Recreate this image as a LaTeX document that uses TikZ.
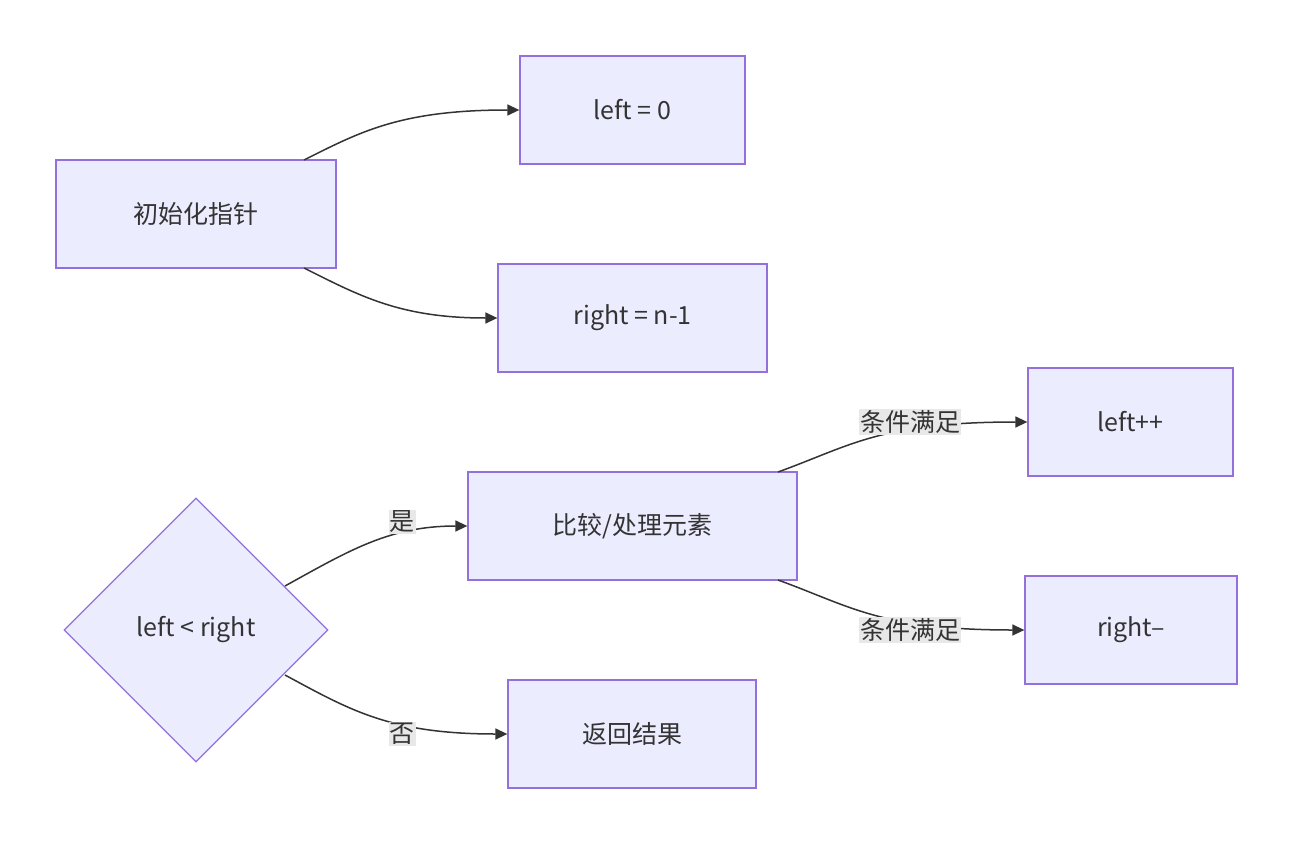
\documentclass[tikz,border=0pt]{standalone}
\usepackage{fontspec}
\setmainfont{Noto Sans CJK SC}
\usetikzlibrary{shapes.geometric,arrows.meta}
\definecolor{nfill}{HTML}{ECECFF}
\definecolor{nline}{HTML}{9370DB}
\definecolor{ecol}{HTML}{333333}
\definecolor{lbg}{HTML}{E8E8E8}
\begin{document}
\begin{tikzpicture}[x=1pt,y=-1pt,
  box/.style={draw=nline,fill=nfill,line width=1.3pt,inner sep=0pt,font=\fontsize{25}{30}\selectfont,text=ecol},
  dia/.style={diamond,draw=nline,fill=nfill,line width=1.3pt,inner sep=0pt,minimum width=264pt,minimum height=264pt,font=\fontsize{25}{30}\selectfont,text=ecol},
  edge/.style={draw=ecol,line width=1.5pt,-{Triangle[length=12pt,width=11pt]}},
  lab/.style={fill=lbg,inner sep=1pt,font=\fontsize{25}{30}\selectfont,text=ecol}]
\useasboundingbox (0,0) rectangle (1292,843);
\node[box,minimum width=280pt,minimum height=108pt] (init) at (196,214) {初始化指针};
\node[box,minimum width=225pt,minimum height=108pt] (l0) at (632.5,110) {left = 0};
\node[box,minimum width=269pt,minimum height=108pt] (r) at (632.5,318) {right = n-1};
\node[dia] (d) at (196,630) {left < right};
\node[box,minimum width=329pt,minimum height=108pt] (cmp) at (632.5,526) {比较/处理元素};
\node[box,minimum width=205pt,minimum height=108pt] (lp) at (1130.5,422) {left++};
\node[box,minimum width=212pt,minimum height=108pt] (rm) at (1131,630) {right--};
\node[box,minimum width=248pt,minimum height=108pt] (ret) at (632,734) {返回结果};
\coordinate (i1) at (304,160);
\coordinate (i2) at (304,268);
\coordinate (d1) at (285,586);
\coordinate (d2) at (285,675);
\coordinate (c1) at (778,472);
\coordinate (c2) at (778,580);
\draw[edge] (i1) .. controls (360,132) and (400,110) .. (l0.west);
\draw[edge] (i2) .. controls (360,296) and (400,318) .. (r.west);
\draw[edge] (d1) .. controls (350,550) and (390,526) .. (cmp.west);
\draw[edge] (d2) .. controls (350,710) and (390,734) .. (ret.west);
\draw[edge] (c1) .. controls (850,446) and (880,422) .. (lp.west);
\draw[edge] (c2) .. controls (850,606) and (880,630) .. (rm.west);
\node[lab] (y) at (402,522) {是};
\node[lab] (n) at (402,734) {否};
\node[lab] (s1) at (910,422) {条件满足};
\node[lab] (s2) at (910,630) {条件满足};
\end{tikzpicture}
\end{document}
